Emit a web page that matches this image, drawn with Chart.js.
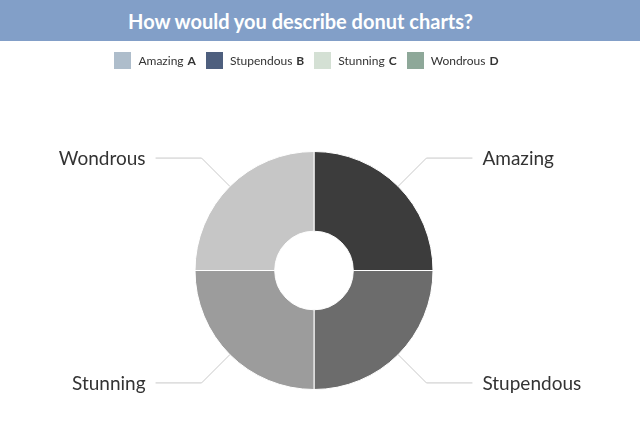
<!DOCTYPE html>
<html>
<head>
<meta charset="utf-8">
<script src="https://cdn.jsdelivr.net/npm/chart.js@4"></script>
<style>
    html, body {
        margin: 0;
        padding: 0;
        background: #fff;
        font-family: Lato, "Noto Sans", sans-serif;
    }
    #wrap {
        position: relative;
        width: 640px;
        height: 446px;
        overflow: hidden;
    }
    #title {
        position: absolute;
        left: 0;
        top: 0;
        width: 640px;
        height: 41px;
        background: #829fc8;
        color: #fff;
        font-weight: bold;
        font-size: 20px;
        line-height: 43px;
        text-align: center;
        padding-right: 39px;
        box-sizing: border-box;
    }
    #legend {
        position: absolute;
        left: 0;
        top: 52px;
        width: 640px;
        display: flex;
        justify-content: center;
        gap: 10px;
        padding-right: 27px;
        box-sizing: border-box;
        font-size: 12px;
        color: #333;
    }
    .item {
        display: flex;
        align-items: center;
        height: 17px;
    }
    .box {
        width: 17px;
        height: 17px;
        margin-right: 7px;
    }
    .item b {
        margin-left: 4px;
    }
    canvas {
        position: absolute;
        left: 0;
        top: 0;
    }
</style>
</head>
<body>
<div id="wrap">
    <canvas id="donut" width="640" height="446"></canvas>
    <div id="title">How would you describe donut charts?</div>
    <div id="legend"></div>
</div>
<script>
const categories = ["Amazing", "Stupendous", "Stunning", "Wondrous"];
const letters = ["A", "B", "C", "D"];
const shares = [25, 25, 25, 25];
const sliceColors = ["#3c3c3c", "#6c6c6c", "#9c9c9c", "#c6c6c6"];
const legendColors = ["#aebdcb", "#4e5f7e", "#d4e0d4", "#8ea899"];

// legend with bold letters
const legend = document.getElementById("legend");
categories.forEach((name, i) => {
    const item = document.createElement("div");
    item.className = "item";
    item.innerHTML = `<span class="box" style="background:${legendColors[i]}"></span>${name}<b>${letters[i]}</b>`;
    legend.appendChild(item);
});

// outside labels with elbow leader lines
const leaderLabels = {
    id: "leaderLabels",
    afterDatasetsDraw(chart) {
        const ctx = chart.ctx;
        const arcs = chart.getDatasetMeta(0).data;
        ctx.save();
        ctx.font = "19px Lato, 'Noto Sans', sans-serif";
        ctx.fillStyle = "#333";
        ctx.textBaseline = "middle";
        arcs.forEach((arc, i) => {
            const p = arc.getProps(["x", "y", "startAngle", "endAngle", "outerRadius"], true);
            const mid = (p.startAngle + p.endAngle) / 2;
            const cos = Math.cos(mid), sin = Math.sin(mid);
            const x0 = p.x + cos * p.outerRadius;
            const y0 = p.y + sin * p.outerRadius;
            const x1 = p.x + cos * (p.outerRadius + 40);
            const y1 = p.y + sin * (p.outerRadius + 40);
            const dir = cos >= 0 ? 1 : -1;
            const x2 = x1 + dir * 46;
            ctx.strokeStyle = "#c8c8c8";
            ctx.lineWidth = 1;
            ctx.beginPath();
            ctx.moveTo(x0, y0);
            ctx.lineTo(x1, y1);
            ctx.lineTo(x2, y1);
            ctx.stroke();
            ctx.textAlign = dir > 0 ? "left" : "right";
            ctx.fillText(chart.data.labels[i], x2 + dir * 10, y1 + 1);
        });
        ctx.restore();
    }
};

new Chart(document.getElementById("donut"), {
    type: "doughnut",
    data: {
        labels: categories,
        datasets: [{
            data: shares,
            backgroundColor: sliceColors,
            borderColor: "#ffffff",
            borderWidth: 1
        }]
    },
    options: {
        responsive: false,
        animation: false,
        cutout: "33%",
        layout: {
            padding: { top: 151, bottom: 56, left: 80, right: 92 }
        },
        plugins: {
            legend: { display: false },
            tooltip: { enabled: false }
        }
    },
    plugins: [leaderLabels]
});
</script>
</body>
</html>
